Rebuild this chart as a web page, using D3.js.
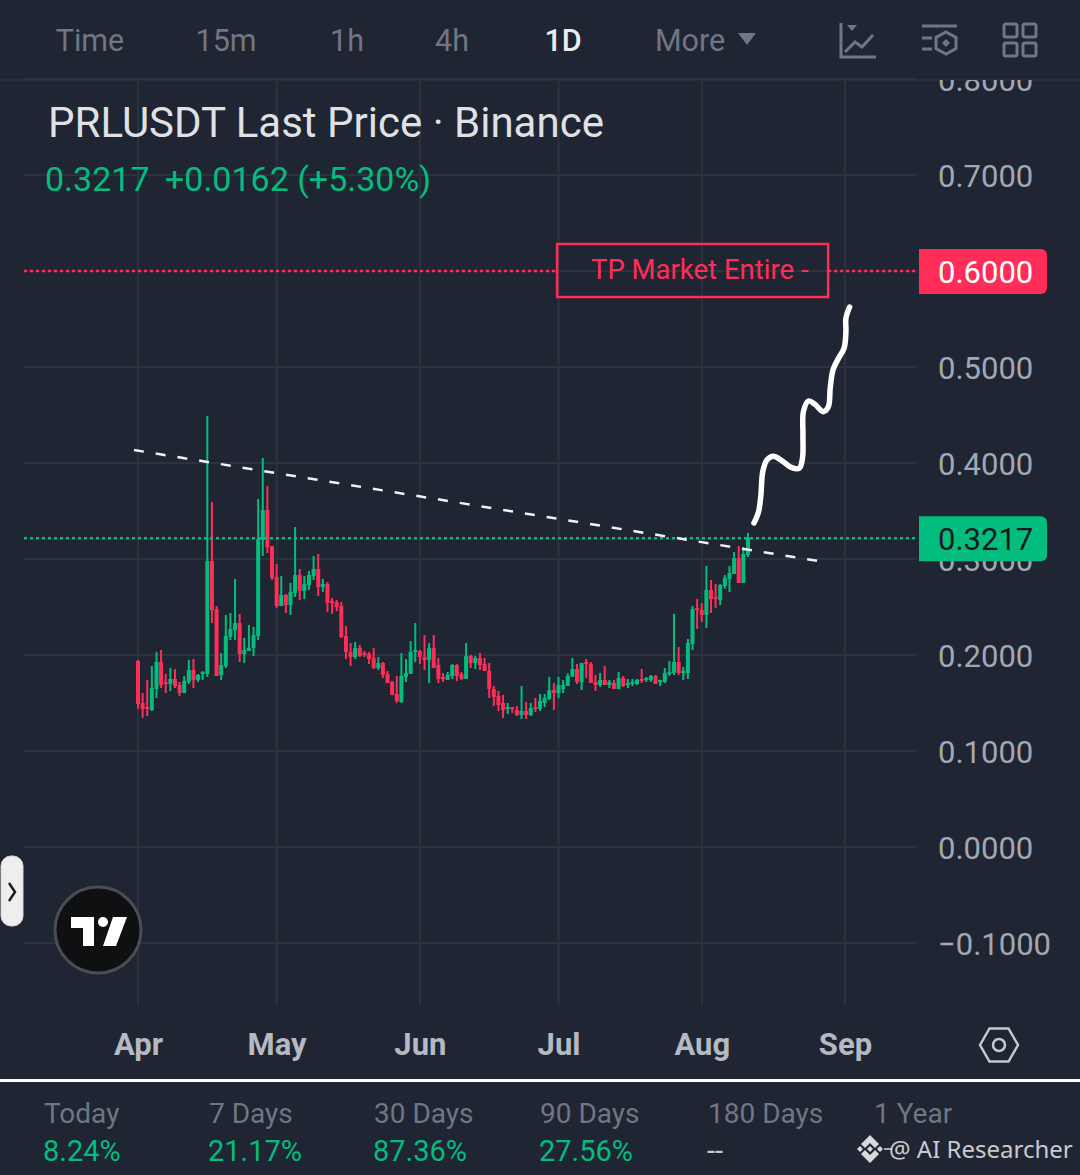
<!DOCTYPE html>
<html lang="en">
<head>
  <meta charset="UTF-8">
  <title>PRLUSDT</title>
  <style>
    html, body { margin: 0; padding: 0; background: #1f2532; }
    svg { display: block; }
    text { font-family: Roboto, sans-serif; }
  </style>
</head>
<body>
<svg width="1080" height="1175"></svg>

<script src="https://cdn.jsdelivr.net/npm/d3@7"></script>
<script>
  var opens = [.1938,.1500,.1458,.1427,.1646,.1927,.1719,.1698,.1750,.1688,.1604,.1719,.1844,.1740,.1802,.1802,.2979,.2479,.1792,.1885,.2188,.2260,.2333,.2010,.2042,.2073,.2198,.3198,.3510,.3135,
    .2813,.2510,.2625,.2521,.2646,.2833,.2667,.2729,.2823,.2896,.2708,.2740,.2563,.2552,.2510,.2198,.2031,.1979,.2073,.2021,.2010,.1969,.1865,.1917,.1802,.1719,.1594,.1510,.1771,.1802,
    .2031,.2042,.1979,.1948,.2073,.1896,.1771,.1740,.1781,.1896,.1802,.1750,.1990,.1917,.1969,.1906,.1833,.1646,.1573,.1500,.1438,.1458,.1427,.1375,.1417,.1375,.1458,.1438,.1500,.1542,
    .1635,.1604,.1646,.1677,.1774,.1854,.1719,.1927,.1906,.1719,.1688,.1740,.1688,.1708,.1646,.1760,.1688,.1698,.1698,.1750,.1740,.1740,.1781,.1719,.1719,.1802,.1813,.1927,.1813,.1813,
    .2115,.2490,.2469,.2417,.2677,.2604,.2573,.2719,.2792,.2844,.3010,.2750,.3042];
  var highs = [.1948,.1604,.1740,.1885,.2031,.2052,.1802,.1865,.1854,.1719,.1781,.1948,.1958,.1802,.1833,.4490,.3594,.2510,.2021,.2417,.2438,.2792,.2427,.2177,.2313,.2292,.3625,.4052,.3760,.3135,
    .2948,.2823,.2635,.2750,.3333,.2896,.2823,.2875,.3031,.3052,.2792,.2760,.2594,.2573,.2552,.2302,.2125,.2135,.2104,.2042,.2031,.2073,.1979,.1927,.1833,.1729,.1781,.2021,.1958,.2146,
    .2333,.2052,.2208,.2125,.2208,.1969,.1813,.1823,.1906,.1906,.1823,.2125,.2000,.1990,.2021,.1969,.1917,.1677,.1625,.1583,.1500,.1458,.1469,.1677,.1510,.1500,.1552,.1594,.1594,.1771,
    .1708,.1771,.1740,.1809,.1969,.1906,.1917,.1958,.1927,.1792,.1813,.1885,.1740,.1740,.1823,.1781,.1750,.1750,.1750,.1854,.1771,.1792,.1792,.1740,.1865,.1938,.2427,.2083,.1875,.2167,
    .2510,.2583,.2542,.2927,.2781,.2740,.2740,.2833,.2927,.3073,.3135,.3125,.3271];
  var lows = [.1438,.1344,.1365,.1417,.1552,.1656,.1604,.1625,.1656,.1573,.1604,.1698,.1656,.1719,.1740,.1771,.2333,.1781,.1740,.1865,.2156,.2156,.1927,.1917,.2042,.1990,.2156,.3031,.3063,.2781,
    .2490,.2510,.2438,.2417,.2604,.2573,.2583,.2677,.2781,.2615,.2656,.2448,.2427,.2458,.2177,.1958,.1885,.1958,.1979,.1979,.1906,.1854,.1844,.1760,.1708,.1583,.1500,.1500,.1719,.1802,
    .1927,.1906,.1844,.1708,.1865,.1708,.1719,.1740,.1750,.1729,.1740,.1750,.1865,.1854,.1844,.1833,.1552,.1469,.1417,.1344,.1385,.1396,.1365,.1333,.1333,.1365,.1406,.1417,.1458,.1531,
    .1427,.1552,.1604,.1677,.1774,.1698,.1635,.1760,.1708,.1625,.1667,.1688,.1656,.1646,.1646,.1667,.1656,.1677,.1688,.1708,.1719,.1719,.1698,.1677,.1708,.1781,.1792,.1792,.1740,.1750,
    .2052,.2271,.2344,.2281,.2438,.2490,.2521,.2691,.2656,.2844,.2750,.2750,.3021];
  var closes = [.1490,.1438,.1438,.1656,.1927,.1688,.1698,.1750,.1677,.1604,.1729,.1844,.1740,.1792,.1823,.2979,.2469,.1781,.1896,.2198,.2271,.2333,.2010,.2052,.2073,.2208,.3208,.3510,.3125,.2802,
    .2510,.2625,.2521,.2656,.2833,.2667,.2740,.2833,.2896,.2708,.2740,.2542,.2542,.2500,.2188,.2031,.1979,.2073,.1990,.2000,.1958,.1865,.1917,.1792,.1708,.1583,.1521,.1781,.1813,.2031,
    .2052,.1979,.1948,.2073,.1865,.1750,.1750,.1792,.1896,.1781,.1750,.1990,.1917,.1969,.1896,.1833,.1646,.1563,.1479,.1427,.1458,.1438,.1375,.1417,.1375,.1448,.1438,.1521,.1552,.1635,
    .1604,.1688,.1688,.1781,.1854,.1719,.1917,.1906,.1708,.1688,.1740,.1688,.1719,.1646,.1760,.1677,.1708,.1719,.1740,.1729,.1760,.1781,.1698,.1740,.1813,.1823,.1927,.1813,.1833,.2125,
    .2479,.2469,.2417,.2677,.2583,.2583,.2729,.2802,.2854,.3010,.2750,.3052,.3219];

  var priceTicks = [.8,.7,.6,.5,.4,.3,.2,.1,0,-.1];
  var monthTicks = ['2025-04-01','2025-05-01','2025-06-01','2025-07-01','2025-08-01','2025-09-01'];
  var lastPrice = 0.3217, targetPrice = 0.6;
  var trendDays = [-0.87, 147.2], trendPrices = [.4135, .2979];
  var sketchDays = [133.3,134.3,134.8,135.2,136.1,137.5,139.3,141.5,143.1,143.8,143.9,144.0,145.1,146.5,148.3,149.4,149.8,150.4,151.6,152.8,153.2,153.2,154.0];
  var sketchPrices = [.3375,.3493,.3667,.3910,.4031,.4070,.4024,.3951,.3945,.4049,.4292,.4535,.4646,.4611,.4535,.4587,.4779,.4969,.5092,.5196,.5369,.5508,.5625];
  var boxDays = [90.7, 149.35], boxPrices = [.6281, .5729];
  var tabs = ['Time','15m','1h','4h','1D','More'];
  var statNames = ['Today','7 Days','30 Days','90 Days','180 Days','1 Year'];
  var statValues = ['8.24%','21.17%','87.36%','27.56%','--',''];

  var bg = '#1f2532', grid = '#2c323e', green = '#02bd7e', red = '#ff2d58', axisText = '#a2a8b3', iconCol = '#6f7684';

  var svg = d3.select('svg');
  svg.append('rect').attr('width', 1080).attr('height', 1175).attr('fill', bg);

  var dayMs = 864e5, start = Date.UTC(2025, 3, 1);
  var xScale = d3.scaleUtc().domain([new Date(start), new Date(Date.UTC(2025, 8, 1))]).range([138, 845]);
  var yScale = d3.scaleLinear().domain([0, .7]).range([847, 175]);
  var x = function (day) { return xScale(new Date(start + day * dayMs)); };

  svg.append('clipPath').attr('id', 'plotClip').append('rect').attr('x', 0).attr('y', 80).attr('width', 1080).attr('height', 940);

  // 网格
  var monthDates = monthTicks.map(function (s) { return new Date(s + 'T00:00:00Z'); });
  svg.append('line').attr('x1', 0).attr('x2', 1080).attr('y1', 80).attr('y2', 80).attr('stroke', '#262c38').attr('stroke-width', 2);
  svg.append('g').selectAll('line').data(priceTicks).enter().append('line')
    .attr('x1', 24).attr('x2', 917)
    .attr('y1', function (d) { return yScale(d); }).attr('y2', function (d) { return yScale(d); })
    .attr('stroke', grid).attr('stroke-width', 2);
  svg.append('g').selectAll('line').data(monthDates).enter().append('line')
    .attr('x1', function (d) { return xScale(d); }).attr('x2', function (d) { return xScale(d); })
    .attr('y1', 80).attr('y2', 1005)
    .attr('stroke', grid).attr('stroke-width', 2);

  // 坐标轴
  var yAxis = d3.axisRight(yScale).tickValues(priceTicks).tickSize(0).tickPadding(0)
    .tickFormat(function (d) { return (d < 0 ? '\u2212' : '') + Math.abs(d).toFixed(4); });
  var yG = svg.append('g').attr('clip-path', 'url(#plotClip)').append('g').attr('transform', 'translate(938,1)').call(yAxis);
  yG.select('.domain').remove();
  yG.selectAll('text').attr('fill', axisText).attr('font-size', 31).attr('font-family', 'Roboto').attr('dy', '.35em');

  var xAxis = d3.axisBottom(xScale).tickValues(monthDates).tickSize(0).tickPadding(0).tickFormat(d3.utcFormat('%b'));
  var xG = svg.append('g').attr('transform', 'translate(0,1033)').call(xAxis);
  xG.select('.domain').remove();
  xG.selectAll('text').attr('fill', '#b4b9c2').attr('font-size', 31).attr('font-weight', 700).attr('font-family', 'Roboto');

  // K线
  var candles = svg.append('g').selectAll('g').data(d3.range(opens.length)).enter().append('g')
    .attr('fill', function (i) { return closes[i] >= opens[i] ? green : red; });
  candles.append('rect')
    .attr('x', function (i) { return x(i) - 1; }).attr('width', 2)
    .attr('y', function (i) { return yScale(highs[i]); })
    .attr('height', function (i) { return yScale(lows[i]) - yScale(highs[i]); });
  candles.append('rect')
    .attr('x', function (i) { return x(i) - 2; }).attr('width', 4)
    .attr('y', function (i) { return yScale(Math.max(opens[i], closes[i])); })
    .attr('height', function (i) { return Math.max(2, Math.abs(yScale(opens[i]) - yScale(closes[i]))); });

  // 价格线
  svg.append('line').attr('x1', 24).attr('x2', 917).attr('y1', yScale(lastPrice)).attr('y2', yScale(lastPrice))
    .attr('stroke', green).attr('stroke-width', 2.5).attr('stroke-dasharray', '3,3');
  svg.append('line').attr('x1', 24).attr('x2', x(boxDays[0])).attr('y1', yScale(targetPrice)).attr('y2', yScale(targetPrice))
    .attr('stroke', red).attr('stroke-width', 2.5).attr('stroke-dasharray', '3,3');
  svg.append('line').attr('x1', x(boxDays[1])).attr('x2', 917).attr('y1', yScale(targetPrice)).attr('y2', yScale(targetPrice))
    .attr('stroke', red).attr('stroke-width', 2.5).attr('stroke-dasharray', '3,3');

  // 趋势线
  svg.append('line').attr('x1', x(trendDays[0])).attr('y1', yScale(trendPrices[0]))
    .attr('x2', x(trendDays[1])).attr('y2', yScale(trendPrices[1]))
    .attr('stroke', '#f2f2f2').attr('stroke-width', 2.5).attr('stroke-dasharray', '10,12');

  // 手绘线
  var sketchLine = d3.line().curve(d3.curveCatmullRom)
    .x(function (d) { return x(d); })
    .y(function (d, i) { return yScale(sketchPrices[i]); });
  svg.append('path').attr('d', sketchLine(sketchDays)).attr('fill', 'none')
    .attr('stroke', '#fff').attr('stroke-width', 5.5).attr('stroke-linecap', 'round').attr('stroke-linejoin', 'round');

  // TP框
  svg.append('rect').attr('x', x(boxDays[0])).attr('y', yScale(boxPrices[0]))
    .attr('width', x(boxDays[1]) - x(boxDays[0])).attr('height', yScale(boxPrices[1]) - yScale(boxPrices[0]))
    .attr('fill', 'none').attr('stroke', red).attr('stroke-width', 2.5);
  svg.append('text').attr('x', 591).attr('y', 279).attr('font-size', 27.5).attr('fill', red).text('TP Market Entire -');

  // 价格标签
  function pill(price, fill, textFill) {
    var cy = yScale(price) + 1;
    svg.append('path').attr('fill', fill)
      .attr('d', 'M919,' + (cy - 23) + 'H1041a6,6 0 0 1 6,6V' + (cy + 16) + 'a6,6 0 0 1 -6,6H919Z');
    svg.append('text').attr('x', 938).attr('y', cy + 11).attr('font-size', 31).attr('fill', textFill).text(price.toFixed(4));
  }
  pill(targetPrice, red, '#fff');
  pill(lastPrice, green, '#14181f');

  // 顶部
  var tabX = [90, 226, 347, 452, 563, 690];
  svg.append('g').selectAll('text').data(tabs).enter().append('text')
    .attr('x', function (d, i) { return tabX[i]; }).attr('y', 51).attr('text-anchor', 'middle')
    .attr('font-size', 30.5).attr('font-weight', function (d) { return d === '1D' ? 500 : 400; })
    .attr('fill', function (d) { return d === '1D' ? '#eaecef' : '#6f7684'; }).text(function (d) { return d; });
  svg.append('path').attr('d', 'M738,33H756L747,45Z').attr('fill', '#6f7684');

  svg.append('text').attr('x', 48).attr('y', 137).attr('font-size', 42).attr('fill', '#dfe1e5').text('PRLUSDT Last Price \u00b7 Binance');
  svg.append('text').attr('x', 45).attr('y', 191).attr('font-size', 34).attr('fill', green).text('0.3217');
  svg.append('text').attr('x', 165).attr('y', 191).attr('font-size', 34).attr('fill', green).text('+0.0162 (+5.30%)');

  // 图标
  var icons = svg.append('g').attr('fill', 'none').attr('stroke', iconCol).attr('stroke-width', 3);
  icons.append('path').attr('d', 'M841,23V57H876');
  icons.append('path').attr('d', 'M845,52L855,42L862,47L873,35');
  svg.append('path').attr('d', 'M847,25H857L852,31Z').attr('fill', iconCol);
  icons.append('path').attr('d', 'M922,26H957M922,38H932M922,49H932');
  icons.append('path').attr('d', 'M946,32L956,37.5V48.5L946,54L936,48.5V37.5Z');
  svg.append('path').attr('d', 'M946,39L950,43L946,47L942,43Z').attr('fill', iconCol);
  [[1004, 24], [1023, 24], [1004, 43], [1023, 43]].forEach(function (p) {
    icons.append('rect').attr('x', p[0]).attr('y', p[1]).attr('width', 13).attr('height', 13).attr('rx', 2);
  });
  svg.append('path').attr('d', 'M980,1045L989.5,1028.5H1008.5L1018,1045L1008.5,1061.5H989.5Z')
    .attr('fill', 'none').attr('stroke', '#c4c8cf').attr('stroke-width', 2.5);
  svg.append('circle').attr('cx', 999).attr('cy', 1045).attr('r', 6).attr('fill', 'none').attr('stroke', '#c4c8cf').attr('stroke-width', 2.5);

  // 左侧按钮
  svg.append('rect').attr('x', 1).attr('y', 856).attr('width', 22).attr('height', 70).attr('rx', 10).attr('fill', '#eeeeee').attr('stroke', '#d6d6d6').attr('stroke-width', 1);
  svg.append('path').attr('d', 'M9,883L15,892L9,901').attr('fill', 'none').attr('stroke', '#1a1d24').attr('stroke-width', 2.5);

  // TV logo
  svg.append('circle').attr('cx', 98).attr('cy', 930).attr('r', 43).attr('fill', '#0e1012').attr('stroke', '#4b4d53').attr('stroke-width', 3);
  svg.append('path').attr('d', 'M71,917H94V946H83V928H71Z').attr('fill', '#fff');
  svg.append('circle').attr('cx', 103).attr('cy', 922).attr('r', 5).attr('fill', '#fff');
  svg.append('path').attr('d', 'M113,917H127L116,946H103Z').attr('fill', '#fff');

  // 底部
  svg.append('rect').attr('x', 0).attr('y', 1079).attr('width', 1080).attr('height', 3).attr('fill', '#fff');
  var statX = [44, 209, 374, 540, 708, 874];
  svg.append('g').selectAll('text').data(statNames).enter().append('text')
    .attr('x', function (d, i) { return statX[i]; }).attr('y', 1123).attr('font-size', 28).attr('fill', '#6f7684')
    .text(function (d) { return d; });
  svg.append('g').selectAll('text').data(statValues).enter().append('text')
    .attr('x', function (d, i) { return statX[i] - 1; }).attr('y', 1161).attr('font-size', 29)
    .attr('fill', function (d) { return d === '--' ? '#c4c8cf' : green; })
    .text(function (d) { return d; });

  // 水印
  svg.append('text').attr('x', 889).attr('y', 1158).attr('font-size', 24).attr('fill', '#c9cbcf')
    .style('font-family', '"Noto Sans", sans-serif').text('@ AI Researcher');
  var mark = svg.append('g').attr('fill', '#d8d9dc');
  mark.append('path').attr('d', 'M870,1135L879,1144L875,1148L870,1143L865,1148L861,1144Z');
  mark.append('path').attr('d', 'M870,1163L861,1154L865,1150L870,1155L875,1150L879,1154Z');
  mark.append('path').attr('d', 'M870,1146L873,1149L870,1152L867,1149Z');
  mark.append('path').attr('d', 'M860,1146L863,1149L860,1152L857,1149Z');
  mark.append('path').attr('d', 'M880,1146L883,1149L880,1152L877,1149Z');
  svg.append('line').attr('x1', 884).attr('x2', 892).attr('y1', 1149).attr('y2', 1149).attr('stroke', '#d8d9dc').attr('stroke-width', 1.5);
</script>
</body>
</html>
